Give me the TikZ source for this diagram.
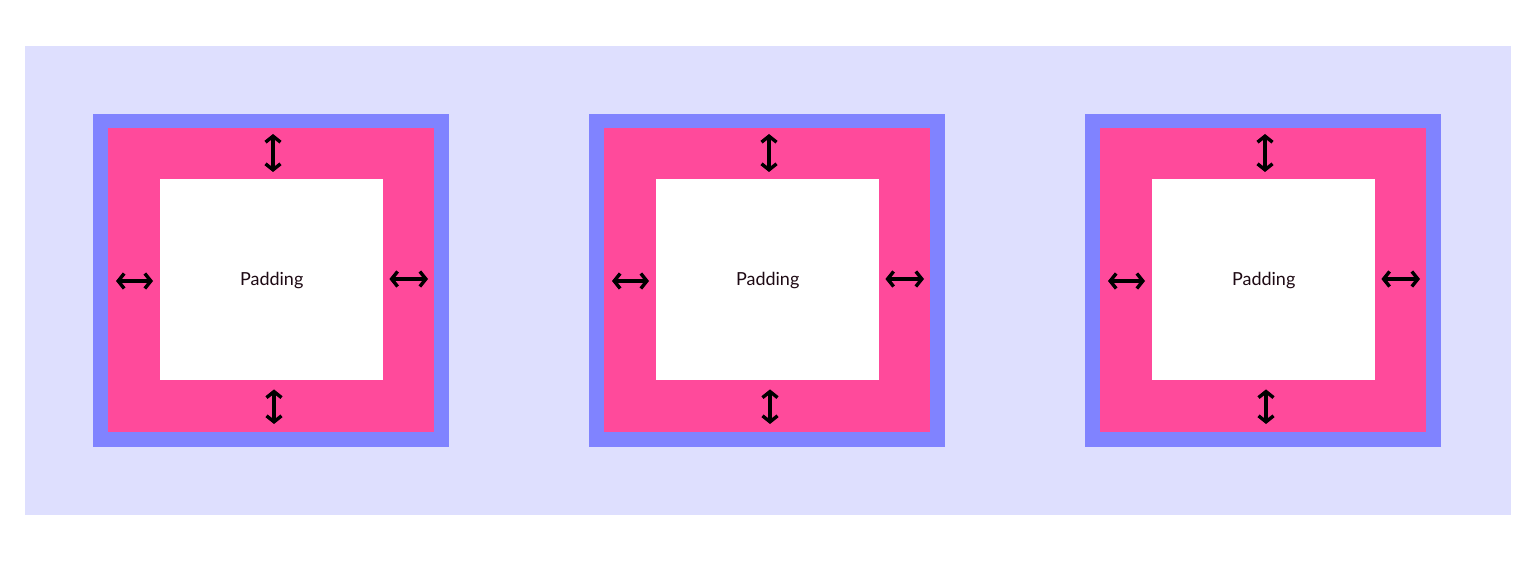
\documentclass[tikz,border=0pt]{standalone}
\usepackage{fontspec}
\setmainfont{Lato}
\usetikzlibrary{arrows.meta}
\definecolor{lavender}{RGB}{222,223,254}
\definecolor{borderblue}{RGB}{128,131,255}
\definecolor{padpink}{RGB}{255,74,155}
\definecolor{textdark}{RGB}{30,10,20}
\tikzset{padarrow/.style={line width=3.4pt, {Straight Barb[length=6pt,width=15pt]}-{Straight Barb[length=6pt,width=15pt]}}}

\begin{document}
\begin{tikzpicture}[x=1pt, y=-1pt]
		%%%%% START %%%%%
		\useasboundingbox (0, 0) rectangle (1536, 561);
		
		\fill[lavender] (25, 46) rectangle (1511, 515);
		
		\foreach \bx/\name in {93/a, 589/b, 1085/c}{
			\fill[borderblue] (\bx, 114) rectangle ++(356, 333);
			\fill[padpink] (\bx+15, 128) rectangle ++(326, 304);
			\node[fill=white, minimum width=223pt, minimum height=201pt, inner sep=0pt, anchor=north west, text=textdark, font=\fontsize{18pt}{21pt}\selectfont, text depth=2pt] (content-\name) at (\bx+67, 179) {Padding};
			
			\coordinate (top-\name) at (\bx+180, 134);
			\coordinate (bottom-\name) at (\bx+181, 424);
			\coordinate (left-\name) at (\bx+23, 281);
			\coordinate (right-\name) at (\bx+335, 279);
			
			\draw[padarrow] (top-\name) -- ([yshift=7pt]top-\name |- content-\name.north);
			\draw[padarrow] ([yshift=-9pt]bottom-\name |- content-\name.south) -- (bottom-\name);
			\draw[padarrow] (left-\name) -- ([xshift=-7pt]left-\name -| content-\name.west);
			\draw[padarrow] ([xshift=6pt]right-\name -| content-\name.east) -- (right-\name);
		}
		%%%%% END %%%%%
	\end{tikzpicture}
\end{document}
